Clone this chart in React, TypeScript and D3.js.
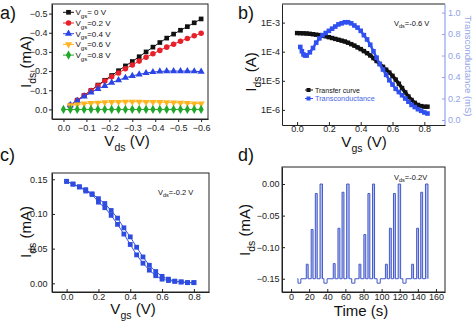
import React, { useEffect, useRef } from "react";
import * as d3 from "d3";

const FONT = "'Liberation Sans', Arial, Helvetica, sans-serif";

// ---------- Panel a: output curves ----------
const vdsA = [-0.03, -0.06, -0.09, -0.12, -0.15, -0.18, -0.21, -0.24, -0.27, -0.3, -0.33, -0.36, -0.39, -0.42, -0.45, -0.48, -0.51, -0.54, -0.57, -0.6];
const vdsGreen = [0, -0.03, -0.06, -0.09, -0.12, -0.15, -0.18, -0.21, -0.24, -0.27, -0.3, -0.33, -0.36, -0.39, -0.42, -0.45, -0.48, -0.51, -0.54, -0.57, -0.6];
const idsVgs00 = [-0.022, -0.048, -0.073, -0.099, -0.127, -0.152, -0.177, -0.202, -0.227, -0.25, -0.275, -0.3, -0.325, -0.349, -0.372, -0.393, -0.413, -0.432, -0.452, -0.472];
const idsVgs02 = [-0.022, -0.048, -0.073, -0.098, -0.124, -0.148, -0.17, -0.19, -0.212, -0.232, -0.252, -0.272, -0.29, -0.308, -0.325, -0.34, -0.356, -0.37, -0.384, -0.397];
const idsVgs04 = [-0.022, -0.045, -0.068, -0.088, -0.107, -0.123, -0.14, -0.153, -0.165, -0.175, -0.183, -0.19, -0.195, -0.198, -0.2, -0.2, -0.2, -0.2, -0.199, -0.197];
const idsVgs06 = [-0.022, -0.026, -0.03, -0.033, -0.035, -0.037, -0.038, -0.039, -0.04, -0.04, -0.04, -0.039, -0.039, -0.038, -0.037, -0.036, -0.034, -0.033, -0.031, -0.03];
const idsVgs08 = [0, 0, 0, 0, 0, 0, 0, 0, 0, 0, 0, 0, 0, 0, 0, 0, 0, 0, 0, 0, 0];
const legendA = ["=  0 V", "=0.2 V", "=0.4 V", "=0.6 V", "=0.8 V"];
const ticksAX = [0, -0.1, -0.2, -0.3, -0.4, -0.5, -0.6];
const ticksAY = [0, -0.1, -0.2, -0.3, -0.4, -0.5];

// ---------- Panel b: transfer + transconductance ----------
const vgsB = [0, 0.02, 0.04, 0.06, 0.08, 0.1, 0.12, 0.14, 0.16, 0.18, 0.2, 0.22, 0.24, 0.26, 0.28, 0.3, 0.32, 0.34, 0.36, 0.38, 0.4, 0.42, 0.44, 0.46, 0.48, 0.5, 0.52, 0.54, 0.56, 0.58, 0.6, 0.62, 0.64, 0.66, 0.68, 0.7, 0.72, 0.74, 0.76, 0.78, 0.8, 0.82];
const transferB = [4.37e-4, 4.32e-4, 4.27e-4, 4.22e-4, 4.12e-4, 3.98e-4, 3.85e-4, 3.72e-4, 3.55e-4, 3.39e-4, 3.16e-4, 2.95e-4, 2.75e-4, 2.57e-4, 2.4e-4, 2.24e-4, 2.04e-4, 1.82e-4, 1.62e-4, 1.41e-4, 1.23e-4, 1.05e-4, 8.91e-5, 7.41e-5, 6.03e-5, 4.79e-5, 3.8e-5, 3.02e-5, 2.4e-5, 1.91e-5, 1.48e-5, 1.1e-5, 7.94e-6, 5.62e-6, 3.98e-6, 2.88e-6, 2.19e-6, 1.74e-6, 1.48e-6, 1.35e-6, 1.29e-6, 1.29e-6];
const vgsGm = [0.02, 0.03, 0.04, 0.05, 0.06, 0.08, 0.1, 0.12, 0.14, 0.16, 0.18, 0.2, 0.22, 0.24, 0.26, 0.28, 0.3, 0.32, 0.34, 0.36, 0.38, 0.4, 0.42, 0.44, 0.46, 0.48, 0.5, 0.52, 0.54, 0.56, 0.58, 0.6, 0.62, 0.64, 0.66, 0.68, 0.7, 0.72, 0.74, 0.76, 0.78, 0.8, 0.82];
const gmB = [0.68, 0.64, 0.61, 0.6, 0.6, 0.63, 0.67, 0.72, 0.76, 0.79, 0.81, 0.83, 0.85, 0.87, 0.89, 0.9, 0.91, 0.91, 0.9, 0.88, 0.86, 0.83, 0.79, 0.75, 0.7, 0.64, 0.58, 0.52, 0.47, 0.42, 0.37, 0.33, 0.29, 0.26, 0.23, 0.2, 0.17, 0.14, 0.12, 0.1, 0.085, 0.07, 0.06];
const ticksBX = [0, 0.2, 0.4, 0.6, 0.8];
const ticksBY = [1e-6, 1e-5, 1e-4, 1e-3];
const ticksBY2 = [0, 0.2, 0.4, 0.6, 0.8, 1.0];

// ---------- Panel c: hysteresis transfer ----------
const vgsC = [0, 0.04, 0.08, 0.12, 0.16, 0.2, 0.24, 0.28, 0.32, 0.36, 0.4, 0.44, 0.48, 0.52, 0.56, 0.6, 0.64, 0.68, 0.72, 0.76, 0.8];
const idsUp = [0.147, 0.143, 0.139, 0.135, 0.129, 0.122, 0.115, 0.105, 0.094, 0.08, 0.067, 0.052, 0.038, 0.026, 0.017, 0.01, 0.006, 0.003, 0.002, 0.001, 0.001];
const idsDown = [0.147, 0.143, 0.139, 0.133, 0.128, 0.117, 0.109, 0.098, 0.085, 0.071, 0.056, 0.041, 0.029, 0.019, 0.011, 0.006, 0.004, 0.003, 0.002, 0.001, 0.001];
const ticksCX = [0, 0.2, 0.4, 0.6, 0.8];
const ticksCY = [0, 0.05, 0.1, 0.15];

// ---------- Panel d: pulsed response ----------
const traceStart = 7;
const baseLevel = -0.15;
const dipLevel = -0.157;
const dipStart = [7.7, 36.3, 67.0, 95.0, 123.5];
const dipEnd = [10.8, 39.8, 70.5, 98.5, 127.0];
const pulseStart = [16.8, 22.2, 26.8, 32.0, 46.6, 51.8, 56.3, 61.4, 75.0, 80.4, 84.9, 90.0, 104.2, 108.6, 113.1, 118.3, 133.2, 138.7, 143.2, 148.4];
const pulseEnd = [18.9, 24.3, 28.9, 34.7, 48.7, 53.9, 58.4, 64.1, 77.1, 82.5, 87.0, 92.2, 106.3, 110.7, 115.2, 121.0, 135.3, 140.8, 145.3, 151.2];
const pulseTop = [-0.127, -0.072, -0.015, 0.0, -0.126, -0.07, -0.013, 0.0, -0.127, -0.08, -0.015, 0.0, -0.127, -0.07, -0.015, 0.0, -0.127, -0.07, -0.013, 0.0];
const ticksDX = [0, 20, 40, 60, 80, 100, 120, 140, 160];
const ticksDY = [0, -0.05, -0.1, -0.15];

const C_BLACK = "#111111";
const C_RED = "#e8202a";
const C_BLUE = "#2a44e6";
const C_YEL = "#ffb520";
const C_GRN = "#21a82a";
const C_LIGHT = "#8fa3e8";

function styleAxis(g: any, color = "#222") {
  g.selectAll("text").attr("font-family", FONT).attr("font-size", 9).attr("fill", color);
  g.selectAll("line").attr("stroke", color);
  g.selectAll("path").attr("stroke", color);
}

// Axis title with a subscript, centred by measuring its rendered length
function axisTitle(parent: any, x: number, y: number, main: string, sub: string, rest: string, size: number, vertical: boolean) {
  const g = parent.append("g").attr("transform", vertical ? `translate(${x},${y}) rotate(-90)` : `translate(${x},${y})`);
  const t = g.append("text").attr("x", 0).attr("y", 0).attr("text-anchor", "start")
    .attr("font-family", FONT).attr("font-size", size).attr("fill", "#111");
  t.append("tspan").text(main);
  if (sub) {
    t.append("tspan").attr("dy", size * 0.3).attr("font-size", size * 0.7).text(sub);
    t.append("tspan").attr("dy", -size * 0.3).text(rest);
  }
  const node = t.node() as SVGTextElement;
  const w = node.getComputedTextLength();
  t.attr("x", -w / 2);
}

export default function App() {
  const ref = useRef<SVGGElement>(null);

  useEffect(() => {
    const svg = d3.select(ref.current);
    svg.selectAll("*").remove();

    // ===== Panel a =====
    const xA = d3.scaleLinear().domain([0.05, -0.63]).range([52, 208]);
    const yA = d3.scaleLinear().domain([0.05, -0.55]).range([119, 4]);
    const ga = svg.append("g");
    ga.append("g").attr("transform", "translate(0,119)")
      .call(d3.axisBottom(xA).tickValues(ticksAX).tickFormat(d3.format(".1f")).tickSize(3).tickSizeOuter(0).tickPadding(2.5))
      .call(styleAxis);
    ga.append("g").attr("transform", "translate(52,0)")
      .call(d3.axisLeft(yA).tickValues(ticksAY).tickFormat(d3.format(".1f")).tickSize(3).tickSizeOuter(0).tickPadding(1.5))
      .call(styleAxis);
    ga.append("rect").attr("x", 52).attr("y", 4).attr("width", 156).attr("height", 115).attr("fill", "none").attr("stroke", "#222");

    const seriesA = [
      { xs: vdsA, ys: idsVgs00, color: C_BLACK, sym: d3.symbolSquare, size: 22, flip: false },
      { xs: vdsA, ys: idsVgs02, color: C_RED, sym: d3.symbolCircle, size: 24, flip: false },
      { xs: vdsA, ys: idsVgs04, color: C_BLUE, sym: d3.symbolTriangle, size: 22, flip: false },
      { xs: vdsA, ys: idsVgs06, color: C_YEL, sym: d3.symbolTriangle, size: 22, flip: true },
      { xs: vdsGreen, ys: idsVgs08, color: C_GRN, sym: d3.symbolDiamond, size: 24, flip: false },
    ];
    const lineA = d3.line<[number, number]>().x(d => xA(d[0])).y(d => yA(d[1]));
    seriesA.forEach(s => {
      const pts = s.xs.map((x, i) => [x, s.ys[i]] as [number, number]);
      ga.append("path").attr("d", lineA(pts)).attr("fill", "none").attr("stroke", s.color).attr("stroke-width", 1);
      ga.selectAll(null).data(pts).enter().append("path")
        .attr("d", d3.symbol().type(s.sym).size(s.size)())
        .attr("transform", d => `translate(${xA(d[0])},${yA(d[1])})${s.flip ? " rotate(180)" : ""}`)
        .attr("fill", s.color);
    });
    // legend a
    seriesA.forEach((s, i) => {
      const y = 12.3 + i * 10.7;
      ga.append("line").attr("x1", 63).attr("x2", 74).attr("y1", y).attr("y2", y).attr("stroke", s.color).attr("stroke-width", 1);
      ga.append("path").attr("d", d3.symbol().type(s.sym).size(s.size)())
        .attr("transform", `translate(68.5,${y})${s.flip ? " rotate(180)" : ""}`).attr("fill", s.color);
      const t = ga.append("text").attr("x", 75.5).attr("y", y + 3).attr("font-family", FONT).attr("font-size", 8).attr("fill", "#111");
      t.append("tspan").text("V");
      t.append("tspan").attr("dy", 2.5).attr("font-size", 6).text("gs");
      t.append("tspan").attr("dy", -2.5).text(legendA[i]);
    });

    // ===== Panel b =====
    const xB = d3.scaleLinear().domain([-0.095, 0.93]).range([282, 445]);
    const yB = d3.scaleLog().domain([Math.pow(10, -6.52), Math.pow(10, -2.36)]).range([125, 4]);
    const yB2 = d3.scaleLinear().domain([-0.047, 1.08]).range([125, 4]);
    const gb = svg.append("g");
    gb.append("g").attr("transform", "translate(0,125)")
      .call(d3.axisBottom(xB).tickValues(ticksBX).tickFormat(d3.format(".1f")).tickSize(-3).tickSizeOuter(0).tickPadding(1))
      .call(styleAxis);
    gb.append("g").attr("transform", "translate(282,0)")
      .call(d3.axisLeft(yB).tickValues(ticksBY).tickFormat((d: any) => "1E" + Math.round(Math.log10(d))).tickSize(-3).tickSizeOuter(0).tickPadding(2))
      .call(styleAxis);
    gb.append("line").attr("x1", 282).attr("x2", 445).attr("y1", 4).attr("y2", 4).attr("stroke", "#222");
    const gRight = gb.append("g").attr("transform", "translate(445,0)");
    gRight.call(d3.axisRight(yB2).tickValues(ticksBY2).tickFormat(d3.format(".1f")).tickSize(-3).tickSizeOuter(0).tickPadding(3))
      .call((g: any) => styleAxis(g, C_LIGHT));
    gRight.select("path.domain").attr("d", "M0,4V125").attr("stroke", C_LIGHT).attr("stroke-width", 1.2);

    const ptsT = vgsB.map((x, i) => [x, transferB[i]] as [number, number]);
    gb.append("path").attr("d", d3.line<[number, number]>().x(d => xB(d[0])).y(d => yB(d[1]))(ptsT))
      .attr("fill", "none").attr("stroke", C_BLACK).attr("stroke-width", 3.5);
    gb.selectAll(null).data(ptsT).enter().append("rect")
      .attr("x", d => xB(d[0]) - 2.2).attr("y", d => yB(d[1]) - 2.2).attr("width", 4.4).attr("height", 4.4).attr("fill", C_BLACK);
    const ptsG = vgsGm.map((x, i) => [x, gmB[i]] as [number, number]);
    gb.append("path").attr("d", d3.line<[number, number]>().x(d => xB(d[0])).y(d => yB2(d[1]))(ptsG))
      .attr("fill", "none").attr("stroke", "#3050f0").attr("stroke-width", 2.5);
    gb.selectAll(null).data(ptsG).enter().append("rect")
      .attr("x", d => xB(d[0]) - 2.3).attr("y", d => yB2(d[1]) - 2.3).attr("width", 4.6).attr("height", 4.6).attr("fill", "#3050f0");

    // legend b
    gb.append("line").attr("x1", 305).attr("x2", 313).attr("y1", 90).attr("y2", 90).attr("stroke", C_BLACK);
    gb.append("rect").attr("x", 306.5).attr("y", 88).attr("width", 4).attr("height", 4).attr("fill", C_BLACK);
    gb.append("text").attr("x", 315).attr("y", 92.5).attr("font-family", FONT).attr("font-size", 7).attr("fill", "#111").text("Transfer curve");
    gb.append("line").attr("x1", 305).attr("x2", 313).attr("y1", 98.5).attr("y2", 98.5).attr("stroke", "#3050f0");
    gb.append("rect").attr("x", 306.5).attr("y", 96.5).attr("width", 4).attr("height", 4).attr("fill", "#3050f0");
    gb.append("text").attr("x", 315).attr("y", 101).attr("font-family", FONT).attr("font-size", 7.3).attr("fill", "#4a66ea").text("Transconductance");

    // ===== Panel c =====
    const xC = d3.scaleLinear().domain([-0.092, 0.895]).range([52, 209]);
    const yC = d3.scaleLinear().domain([-0.0125, 0.159]).range([292, 173]);
    const gc = svg.append("g");
    gc.append("g").attr("transform", "translate(0,292)")
      .call(d3.axisBottom(xC).tickValues(ticksCX).tickFormat(d3.format(".1f")).tickSize(-3).tickSizeOuter(0).tickPadding(1.5))
      .call(styleAxis);
    gc.append("g").attr("transform", "translate(52,0)")
      .call(d3.axisLeft(yC).tickValues(ticksCY).tickFormat(d3.format(".2f")).tickSize(-3).tickSizeOuter(0).tickPadding(4.5))
      .call(styleAxis);
    gc.append("rect").attr("x", 52).attr("y", 173).attr("width", 157).attr("height", 119).attr("fill", "none").attr("stroke", "#222");
    [idsUp, idsDown].forEach(arr => {
      const pts = vgsC.map((x, i) => [x, arr[i]] as [number, number]);
      gc.append("path").attr("d", d3.line<[number, number]>().x(d => xC(d[0])).y(d => yC(d[1]))(pts))
        .attr("fill", "none").attr("stroke", "#3a55e0").attr("stroke-width", 1);
      gc.selectAll(null).data(pts).enter().append("rect")
        .attr("x", d => xC(d[0]) - 2.4).attr("y", d => yC(d[1]) - 2.4).attr("width", 4.8).attr("height", 4.8).attr("fill", "#2f4ce0");
    });

    // ===== Panel d =====
    const xD = d3.scaleLinear().domain([-10, 170]).range([282, 445]);
    const yD = d3.scaleLinear().domain([-0.171, 0.027]).range([292, 167]);
    const gd = svg.append("g");
    gd.append("g").attr("transform", "translate(0,292)")
      .call(d3.axisBottom(xD).tickValues(ticksDX).tickFormat(d3.format("d")).tickSize(-3).tickSizeOuter(0).tickPadding(1.5))
      .call(styleAxis);
    gd.append("g").attr("transform", "translate(282,0)")
      .call(d3.axisLeft(yD).tickValues(ticksDY).tickFormat(d3.format(".2f")).tickSize(-3).tickSizeOuter(0).tickPadding(2.5))
      .call(styleAxis);
    gd.append("rect").attr("x", 282).attr("y", 167).attr("width", 163).attr("height", 125).attr("fill", "none").attr("stroke", "#222");

    pulseStart.forEach((s, i) => {
      gd.append("rect").attr("x", xD(s)).attr("y", yD(pulseTop[i]))
        .attr("width", xD(pulseEnd[i]) - xD(s)).attr("height", yD(baseLevel) - yD(pulseTop[i]))
        .attr("fill", "#b4c1ee");
    });
    const events: [number, number][] = [[traceStart, baseLevel]];
    dipStart.forEach((s, i) => { events.push([s, dipLevel]); events.push([dipEnd[i], baseLevel]); });
    pulseStart.forEach((s, i) => { events.push([s, pulseTop[i]]); events.push([pulseEnd[i], baseLevel]); });
    events.sort((a, b) => a[0] - b[0]);
    gd.append("path").attr("d", d3.line<[number, number]>().x(d => xD(d[0])).y(d => yD(d[1])).curve(d3.curveStepAfter)(events))
      .attr("fill", "none").attr("stroke", "#4358c8").attr("stroke-width", 1);

    // ===== Axis titles =====
    const gt = svg.append("g");
    axisTitle(gt, 31, 62, "I", "ds", " (mA)", 15, true);
    axisTitle(gt, 127, 146, "V", "ds", " (V)", 15, false);
    axisTitle(gt, 256, 72, "I", "ds", " (A)", 15, true);
    axisTitle(gt, 364, 147, "V", "gs", " (V)", 15, false);
    axisTitle(gt, 31, 232, "I", "ds", " (mA)", 15, true);
    axisTitle(gt, 133, 314, "V", "gs", " (V)", 15, false);
    axisTitle(gt, 250, 230, "I", "ds", " (mA)", 15, true);
    axisTitle(gt, 361, 316, "Time (s)", "", "", 15, false);
  }, []);

  return (
    <svg width={474} height={321} style={{ position: "fixed", left: 0, top: 0, background: "#fff" }}>
      <rect width={474} height={321} fill="#fff" />
      <g ref={ref} />
      {/* panel letters */}
      <text x={0} y={19} fontFamily={FONT} fontSize={18} fill="#111">a)</text>
      <text x={238} y={19} fontFamily={FONT} fontSize={18} fill="#111">b)</text>
      <text x={0} y={161} fontFamily={FONT} fontSize={18} fill="#111">c)</text>
      <text x={238} y={161} fontFamily={FONT} fontSize={18} fill="#111">d)</text>
      <text transform="translate(465,66) rotate(90)" textAnchor="middle" fontFamily={FONT} fontSize={9.5} fill={C_LIGHT}>Transconductance (mS)</text>
      <text x={394} y={26} fontFamily={FONT} fontSize={7.5} fill="#111">
        <tspan>V</tspan><tspan dy={2} fontSize={5.5}>ds</tspan><tspan dy={-2}>=-0.6 V</tspan>
      </text>
      <text x={158} y={195} fontFamily={FONT} fontSize={7.5} fill="#111">
        <tspan>V</tspan><tspan dy={2} fontSize={5.5}>ds</tspan><tspan dy={-2}>=-0.2 V</tspan>
      </text>
      <text x={394} y={180} fontFamily={FONT} fontSize={7.5} fill="#111">
        <tspan>V</tspan><tspan dy={2} fontSize={5.5}>ds</tspan><tspan dy={-2}>=-0.2V</tspan>
      </text>
    </svg>
  );
}
